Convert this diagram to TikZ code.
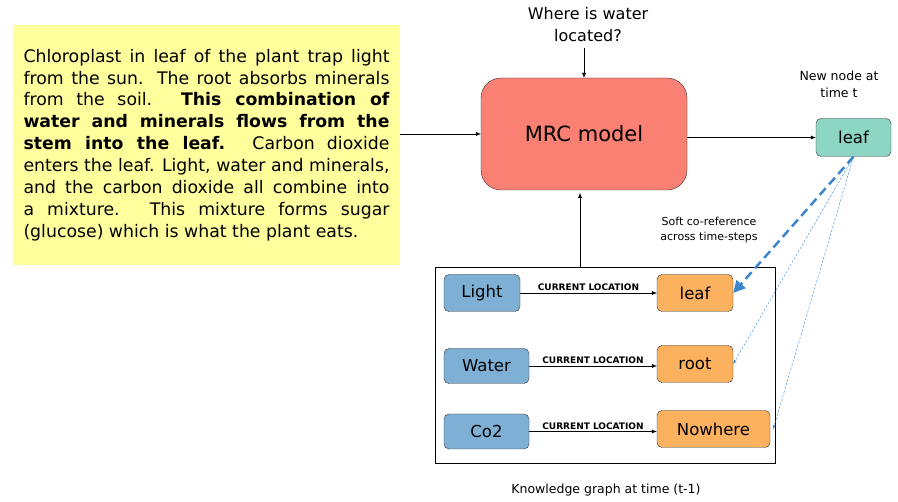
\documentclass[tikz,border=0pt]{standalone}
\usepackage{fontspec}
\setmainfont{DejaVu Sans}
\usetikzlibrary{arrows.meta}
\hyphenpenalty=10000
\exhyphenpenalty=10000
\definecolor{yel}{HTML}{FFFF9E}
\definecolor{sal}{HTML}{F98072}
\definecolor{teal}{HTML}{8ED6C4}
\definecolor{bl}{HTML}{7EAFD4}
\definecolor{org}{HTML}{FBB15E}
\definecolor{dl}{HTML}{3E86CC}
\begin{document}
\begin{tikzpicture}[x=1pt,y=-1pt,
 box/.style={draw=black!80,rounded corners=5pt,inner sep=0pt,font=\fontsize{16.5}{16.5}\selectfont},
 bnode/.style={box,fill=bl,minimum height=37pt},
 onode/.style={box,fill=org,minimum height=37pt},
 arr/.style={-{Latex[length=5pt,width=4pt]},black},
 lab/.style={font=\fontsize{9}{9}\selectfont\bfseries,above,inner sep=2pt}]
\useasboundingbox (0,0) rectangle (898,502);
\node[fill=yel,minimum width=387pt,minimum height=240pt,inner sep=0pt] (txt) at (206.5,145) {};
\node[text width=366pt,align=justify,font=\fontsize{17.3}{21.9}\selectfont,inner sep=0pt] at (206.5,145) {\sloppy\hyphenpenalty=10000 Chloroplast in leaf of the plant trap light from the sun. The root absorbs minerals from the soil. \textbf{This combination of water and minerals flows from the stem into the leaf.} Carbon dioxide enters the leaf. Light, water and minerals, and the carbon dioxide all combine into a mixture. This mixture forms sugar (glucose) which is what the plant eats.};
\node[box,fill=sal,rounded corners=20pt,minimum width=206pt,minimum height=112pt,font=\fontsize{21}{21}\selectfont] (mrc) at (584,134) {MRC model};
\node[align=center,font=\fontsize{16}{22}\selectfont] (q) at (588,25) {Where is water\\located?};
\node[box,fill=teal,minimum width=75pt,minimum height=38pt] (nl) at (853.5,137.5) {leaf};
\node[align=center,font=\fontsize{12.5}{17}\selectfont] (nt) at (839,84) {New node at\\time t};
\node[draw=black,minimum width=340pt,minimum height=196pt,inner sep=0pt] (kg) at (605,365) {};
\node[font=\fontsize{12.5}{14}\selectfont] (cap) at (606,490) {Knowledge graph at time (t-1)};
\node[bnode,minimum width=76pt] (l) at (482,293) {Light};
\node[bnode,minimum width=85pt,minimum height=35pt] (w) at (486.5,366) {Water};
\node[bnode,minimum width=85pt,minimum height=35pt] (c) at (486.5,431.5) {Co2};
\node[onode,minimum width=76pt] (ol) at (695,293) {leaf};
\node[onode,minimum width=76pt] (or) at (695,364) {root};
\node[onode,minimum width=113pt] (on) at (713.5,429) {Nowhere};
\node[align=center,font=\fontsize{11}{15}\selectfont] (soft) at (709,230) {Soft co-reference\\across time-steps};
\coordinate (qa) at (584,48);
\draw[arr] (qa) -- (mrc.north-|qa);
\draw[arr] (txt.east|-mrc) -- (mrc.west);
\draw[arr] (mrc.east|-nl) -- (nl.west);
\draw[arr] (kg.north-|580,0) -- (580,193);
\draw[arr] (l) -- node[lab]{CURRENT LOCATION} (ol);
\draw[arr] (w.east) -- node[lab]{CURRENT LOCATION} (w.east-|or.west);
\draw[arr] (c.east) -- node[lab]{CURRENT LOCATION} (c.east-|on.west);
\draw[dl,line width=2.5pt,dash pattern=on 9pt off 5pt,-{Triangle[length=12pt,width=12pt]}] (nl.south) -- (ol.east);
\draw[dl,thin,dash pattern=on 2.5pt off 1.5pt,-{Latex[length=4pt]}] (nl.south) -- (or.east);
\draw[dl,thin,dash pattern=on 2.5pt off 1.5pt,-{Latex[length=4pt]}] (nl.south) -- ([xshift=3pt]on.east);
\end{tikzpicture}
\end{document}
